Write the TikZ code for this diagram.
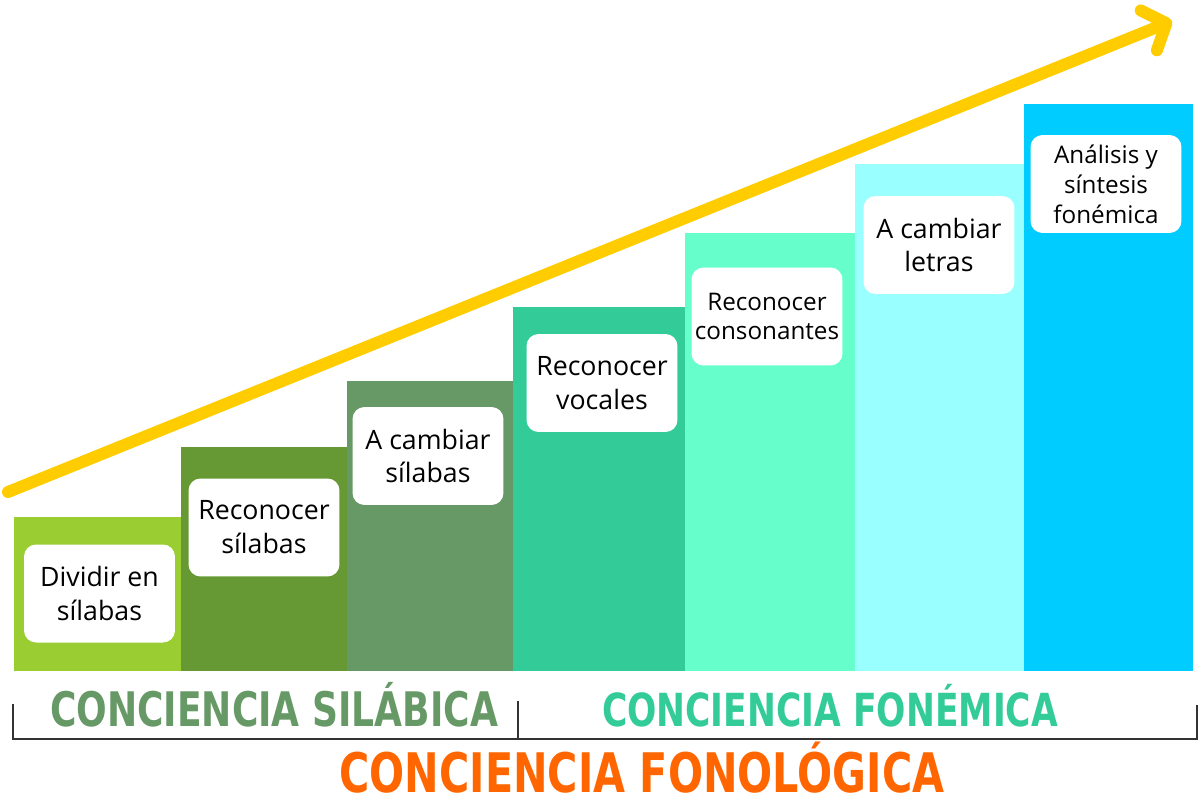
\documentclass[tikz,border=0pt]{standalone}
\usepackage{fontspec}
\usepackage{graphicx}
\setmainfont{Open Sans}
\newfontfamily\fuenterotulo{DejaVu Sans}
\usetikzlibrary{arrows.meta}
\definecolor{verdeA}{HTML}{9ACD32}
\definecolor{verdeB}{HTML}{669933}
\definecolor{verdeC}{HTML}{669966}
\definecolor{verdeD}{HTML}{33CC99}
\definecolor{verdeE}{HTML}{66FFCC}
\definecolor{celesteF}{HTML}{99FFFF}
\definecolor{celesteG}{HTML}{00CCFF}
\definecolor{amarillo}{HTML}{FFCC00}
\definecolor{naranja}{HTML}{FF6600}
\definecolor{gris}{HTML}{333333}
\newcommand{\Rotulo}[2]{\resizebox{#1}{!}{\scalebox{1}[1.32]{\fuenterotulo\bfseries #2}}}
\begin{document}
\begin{tikzpicture}[x=0.02cm,y=-0.02cm]
% Styles
\tikzstyle{caja}=[fill=white,rounded corners=0.24cm,minimum width=3.02cm,minimum height=1.96cm,align=center,inner sep=0pt,font=\fontsize{15.2}{19.3}\selectfont]
\tikzstyle{cajachica}=[caja,font=\fontsize{13.8}{17}\selectfont]
\tikzstyle{flecha}=[line width=0.24cm,amarillo,line cap=round,-{Straight Barb[round,length=0.38cm,width=0.86cm]}]
\tikzstyle{llave}=[gris,line width=1.1pt]
\tikzstyle{rotulo}=[anchor=base,inner sep=0pt]
% Dimensions
\def\Base{671}
\useasboundingbox (0,0) rectangle (1198,802);
% Barras
\fill[verdeA] (14,\Base) rectangle (181,517);
\fill[verdeB] (181,\Base) rectangle (347,447);
\fill[verdeC] (347,\Base) rectangle (513,381);
\fill[verdeD] (513,\Base) rectangle (685,307);
\fill[verdeE] (685,\Base) rectangle (855,233);
\fill[celesteF] (855,\Base) rectangle (1024,164);
\fill[celesteG] (1024,\Base) rectangle (1193,104);
% Flecha
\coordinate (inicio) at (8,492);
\coordinate (punta) at (1172,21);
\draw[flecha] (inicio)--(punta);
% Cajas
\node[caja] (dividir) at (99.5,593.5) {Dividir en\\sílabas};
\node[caja] (silabas) at (264,527.5) {Reconocer\\sílabas};
\node[caja] (cambiarsil) at (428,456) {A cambiar\\sílabas};
\node[caja] (vocales) at (602,383) {Reconocer\\vocales};
\node[cajachica] (consonantes) at (767,316.5) {Reconocer\\consonantes};
\node[caja] (cambiarlet) at (939,245) {A cambiar\\letras};
\node[cajachica] (analisis) at (1106,184) {Análisis y\\síntesis\\fonémica};
% Llaves
\coordinate (izq) at (13,704);
\coordinate (medio) at (518,701);
\coordinate (der) at (1197,705);
\draw[llave] (izq)--(13,739)--(1197,739)--(der);
\draw[llave] (medio)--(518,739);
% Rotulos
\node[rotulo,text=verdeC] (silabica) at (274,726) {\Rotulo{8.96cm}{CONCIENCIA SILÁBICA}};
\node[rotulo,text=verdeD] (fonemica) at (830,726) {\Rotulo{9.12cm}{CONCIENCIA FONÉMICA}};
\node[rotulo,text=naranja] (fonologica) at (642,792) {\Rotulo{12.1cm}{CONCIENCIA FONOLÓGICA}};
\end{tikzpicture}
\end{document}
